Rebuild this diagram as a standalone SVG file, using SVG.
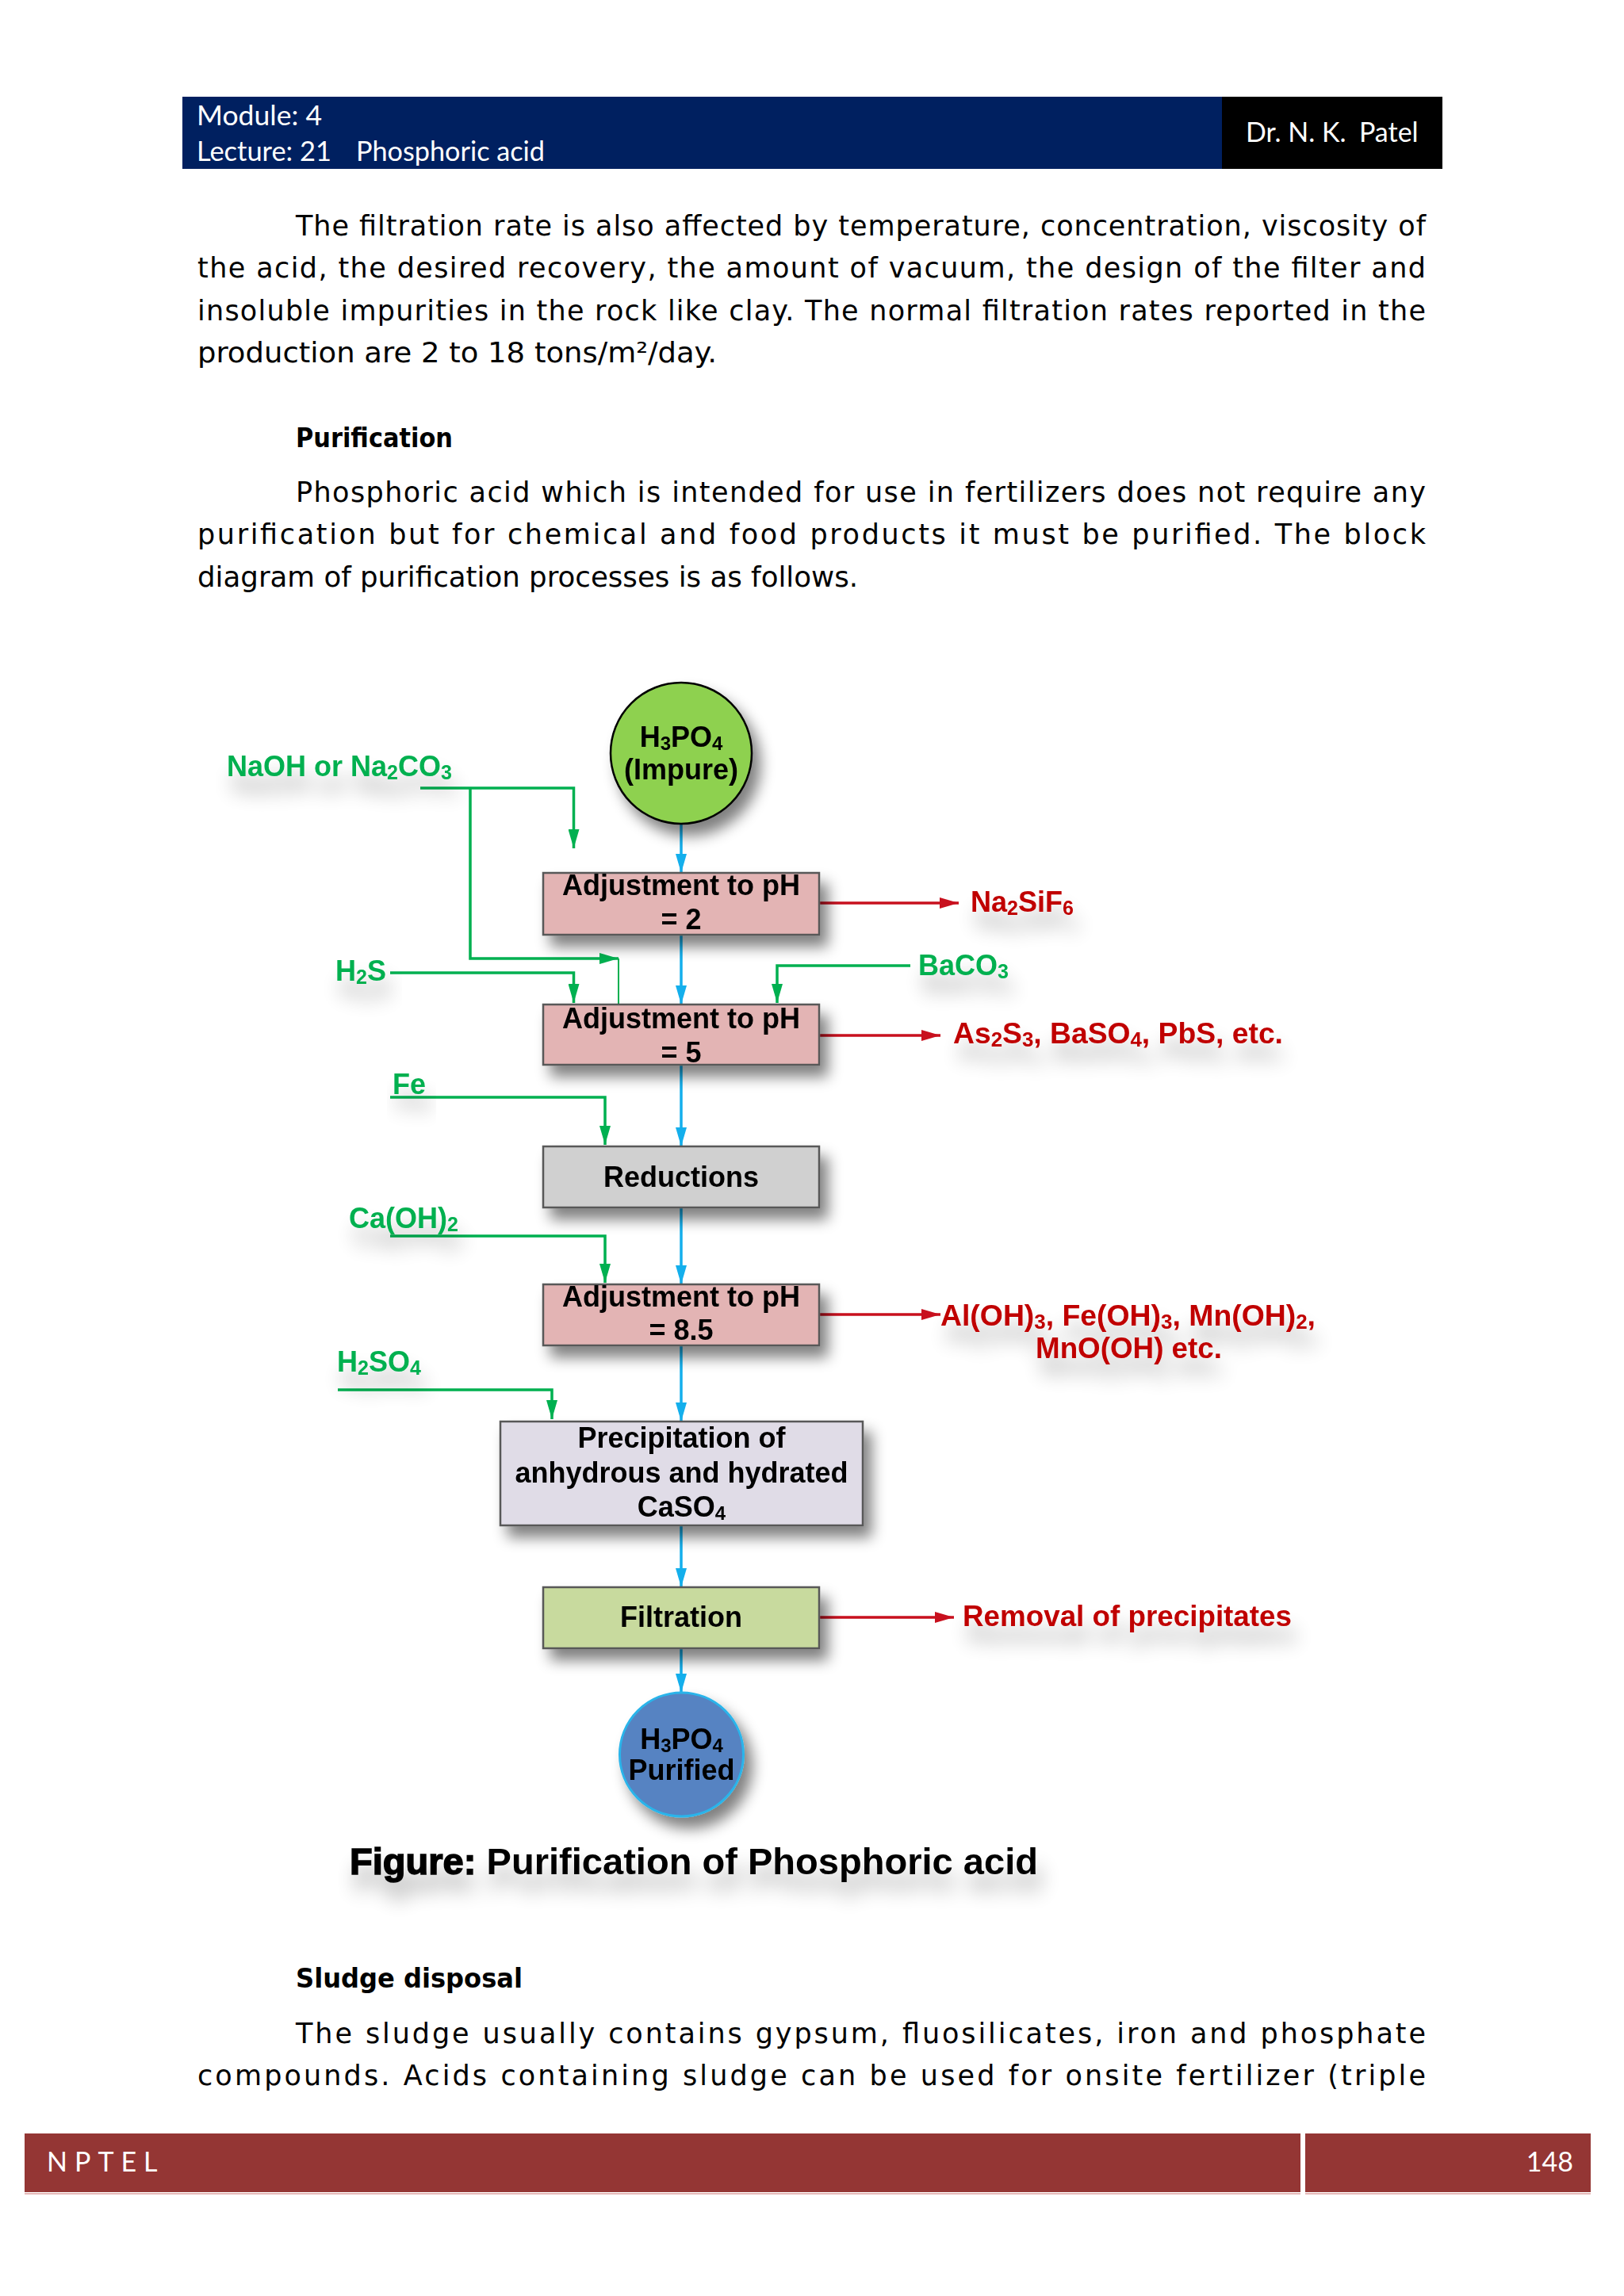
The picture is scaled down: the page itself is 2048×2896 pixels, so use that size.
<svg xmlns="http://www.w3.org/2000/svg" width="2048" height="2896" viewBox="0 0 2048 2896">
<defs>
<style>
.hdr{font-family:Lato,"Liberation Sans",sans-serif;font-size:34px;fill:#ffffff}
.body{font-family:"DejaVu Sans","Liberation Sans",sans-serif;font-size:35px;fill:#000000}
.head{font-family:"DejaVu Sans","Liberation Sans",sans-serif;font-size:34px;font-weight:bold;fill:#000000}
.fig{font-family:"Liberation Sans",Arial,sans-serif;font-size:36px;font-weight:bold}
.blk{fill:#000000}
.grn{fill:#00B050}
.red{fill:#C00000}
.box{stroke:#595959;stroke-width:2.5}
.cg{fill:none;stroke:#00B050;stroke-width:3.5}
.cb{fill:none;stroke:#14AFEC;stroke-width:3.5}
.cr{fill:none;stroke:#C8101E;stroke-width:3.5}
</style>
<marker id="ag" markerUnits="userSpaceOnUse" markerWidth="24" markerHeight="14" refX="24" refY="7" orient="auto"><path d="M0,0 L24,7 L0,14 z" fill="#00B050"/></marker>
<marker id="ab" markerUnits="userSpaceOnUse" markerWidth="24" markerHeight="14" refX="24" refY="7" orient="auto"><path d="M0,0 L24,7 L0,14 z" fill="#14AFEC"/></marker>
<marker id="ar" markerUnits="userSpaceOnUse" markerWidth="24" markerHeight="14" refX="24" refY="7" orient="auto"><path d="M0,0 L24,7 L0,14 z" fill="#C8101E"/></marker>
<filter id="sh" x="-30%" y="-40%" width="170%" height="220%">
<feGaussianBlur in="SourceAlpha" stdDeviation="9"/>
<feOffset dx="10" dy="14"/>
<feComponentTransfer><feFuncA type="linear" slope="0.5"/></feComponentTransfer>
<feMerge><feMergeNode/><feMergeNode in="SourceGraphic"/></feMerge>
</filter>
<filter id="tsh" x="-30%" y="-60%" width="160%" height="300%">
<feGaussianBlur in="SourceAlpha" stdDeviation="12"/>
<feOffset dx="6" dy="22"/>
<feComponentTransfer><feFuncA type="linear" slope="0.3"/></feComponentTransfer>
<feMerge><feMergeNode/><feMergeNode in="SourceGraphic"/></feMerge>
</filter>
</defs>
<rect x="0" y="0" width="2048" height="2896" fill="#ffffff"/>

<g id="page-header">
<rect x="230" y="122" width="1311" height="91" fill="#002060"/>
<rect x="1541" y="122" width="278" height="91" fill="#000000"/>
<text class="hdr" x="248" y="158" textLength="158" lengthAdjust="spacingAndGlyphs">Module: 4</text>
<text class="hdr" x="248" y="203" textLength="170" lengthAdjust="spacingAndGlyphs">Lecture: 21</text>
<text class="hdr" x="449" y="203" textLength="238" lengthAdjust="spacingAndGlyphs">Phosphoric acid</text>
<text class="hdr" x="1571" y="179">Dr. N. K.</text>
<text class="hdr" x="1714" y="179">Patel</text>
</g>

<g id="body-text-top">
<text class="body" x="373" y="297" textLength="1425" lengthAdjust="spacing">The filtration rate is also affected by temperature, concentration, viscosity of</text>
<text class="body" x="249" y="350" textLength="1549" lengthAdjust="spacing">the acid, the desired recovery, the amount of vacuum, the design of the filter and</text>
<text class="body" x="249" y="404" textLength="1549" lengthAdjust="spacing">insoluble impurities in the rock like clay. The normal filtration rates reported in the</text>
<text class="body" x="249" y="457" textLength="655" lengthAdjust="spacingAndGlyphs">production are 2 to 18 tons/m²/day.</text>
<text class="head" x="373" y="564" textLength="198" lengthAdjust="spacingAndGlyphs">Purification</text>
<text class="body" x="373" y="633" textLength="1425" lengthAdjust="spacing">Phosphoric acid which is intended for use in fertilizers does not require any</text>
<text class="body" x="249" y="686" textLength="1549" lengthAdjust="spacing">purification but for chemical and food products it must be purified. The block</text>
<text class="body" x="249" y="740" textLength="833" lengthAdjust="spacingAndGlyphs">diagram of purification processes is as follows.</text>
</g>

<g id="connectors">
<line class="cb" x1="859" y1="1039" x2="859" y2="1101" marker-end="url(#ab)"/>
<line class="cb" x1="859" y1="1179" x2="859" y2="1267" marker-end="url(#ab)"/>
<line class="cb" x1="859" y1="1343" x2="859" y2="1446" marker-end="url(#ab)"/>
<line class="cb" x1="859" y1="1523" x2="859" y2="1620" marker-end="url(#ab)"/>
<line class="cb" x1="859" y1="1697" x2="859" y2="1793" marker-end="url(#ab)"/>
<line class="cb" x1="859" y1="1924" x2="859" y2="2002" marker-end="url(#ab)"/>
<line class="cb" x1="859" y1="2079" x2="859" y2="2135" marker-end="url(#ab)"/>
<polyline class="cg" points="530,994 723.5,994 723.5,1070" marker-end="url(#ag)"/>
<polyline class="cg" points="593,994 593,1209 780,1209" marker-end="url(#ag)"/>
<line x1="780" y1="1209" x2="780" y2="1267" stroke="#00B050" stroke-width="2"/>
<polyline class="cg" points="492,1227 723.5,1227 723.5,1265" marker-end="url(#ag)"/>
<polyline class="cg" points="1148,1218 980,1218 980,1265" marker-end="url(#ag)"/>
<polyline class="cg" points="492,1384 763,1384 763,1444" marker-end="url(#ag)"/>
<polyline class="cg" points="492,1559 763,1559 763,1618" marker-end="url(#ag)"/>
<polyline class="cg" points="426,1753 696,1753 696,1790" marker-end="url(#ag)"/>
<line class="cr" x1="1033" y1="1139" x2="1209" y2="1139" marker-end="url(#ar)"/>
<line class="cr" x1="1033" y1="1306" x2="1186" y2="1306" marker-end="url(#ar)"/>
<line class="cr" x1="1033" y1="1658" x2="1186" y2="1658" marker-end="url(#ar)"/>
<line class="cr" x1="1033" y1="2040" x2="1203" y2="2040" marker-end="url(#ar)"/>
</g>

<g id="node-h3po4-impure" filter="url(#sh)">
<circle cx="859" cy="950" r="89" fill="#8ED150" stroke="#000000" stroke-width="2.5"/>
<text class="fig blk" x="859" y="942" text-anchor="middle">H<tspan font-size="24" baseline-shift="-4">3</tspan>PO<tspan font-size="24" baseline-shift="-4">4</tspan></text>
<text class="fig blk" x="859" y="983" text-anchor="middle">(Impure)</text>
</g>

<g id="node-ph2" filter="url(#sh)">
<rect class="box" x="685" y="1101" width="348" height="78" fill="#E3B4B4"/>
<text class="fig blk" x="859" y="1129" text-anchor="middle">Adjustment to pH</text>
<text class="fig blk" x="859" y="1172" text-anchor="middle">= 2</text>
</g>

<g id="node-ph5" filter="url(#sh)">
<rect class="box" x="685" y="1267" width="348" height="76" fill="#E3B4B4"/>
<text class="fig blk" x="859" y="1297" text-anchor="middle">Adjustment to pH</text>
<text class="fig blk" x="859" y="1340" text-anchor="middle">= 5</text>
</g>

<g id="node-reductions" filter="url(#sh)">
<rect class="box" x="685" y="1446" width="348" height="77" fill="#D0D0D0"/>
<text class="fig blk" x="859" y="1497" text-anchor="middle">Reductions</text>
</g>

<g id="node-ph85" filter="url(#sh)">
<rect class="box" x="685" y="1620" width="348" height="77" fill="#E3B4B4"/>
<text class="fig blk" x="859" y="1648" text-anchor="middle">Adjustment to pH</text>
<text class="fig blk" x="859" y="1690" text-anchor="middle">= 8.5</text>
</g>

<g id="node-precipitation" filter="url(#sh)">
<rect class="box" x="631" y="1793" width="457" height="131" fill="#E0DCE7"/>
<text class="fig blk" x="859.5" y="1826" text-anchor="middle">Precipitation of</text>
<text class="fig blk" x="859.5" y="1870" text-anchor="middle">anhydrous and hydrated</text>
<text class="fig blk" x="859.5" y="1913" text-anchor="middle">CaSO<tspan font-size="24" baseline-shift="-4">4</tspan></text>
</g>

<g id="node-filtration" filter="url(#sh)">
<rect class="box" x="685" y="2002" width="348" height="77" fill="#C8DA9E"/>
<text class="fig blk" x="859" y="2052" text-anchor="middle">Filtration</text>
</g>

<g id="node-h3po4-purified" filter="url(#sh)">
<circle cx="859.5" cy="2213" r="78" fill="#5683C2" stroke="#29B4EA" stroke-width="3"/>
<text class="fig blk" x="859.5" y="2206" text-anchor="middle">H<tspan font-size="24" baseline-shift="-4">3</tspan>PO<tspan font-size="24" baseline-shift="-4">4</tspan></text>
<text class="fig blk" x="859.5" y="2245" text-anchor="middle">Purified</text>
</g>

<g id="label-naoh" filter="url(#tsh)"><text class="fig grn" x="286" y="979">NaOH or Na<tspan font-size="25" baseline-shift="-4">2</tspan>CO<tspan font-size="25" baseline-shift="-4">3</tspan></text></g>
<g id="label-h2s" filter="url(#tsh)"><text class="fig grn" x="423" y="1237">H<tspan font-size="25" baseline-shift="-4">2</tspan>S</text></g>
<g id="label-baco3" filter="url(#tsh)"><text class="fig grn" x="1158" y="1230">BaCO<tspan font-size="25" baseline-shift="-4">3</tspan></text></g>
<g id="label-fe" filter="url(#tsh)"><text class="fig grn" x="495" y="1380">Fe</text></g>
<g id="label-caoh2" filter="url(#tsh)"><text class="fig grn" x="440" y="1549">Ca(OH)<tspan font-size="25" baseline-shift="-4">2</tspan></text></g>
<g id="label-h2so4" filter="url(#tsh)"><text class="fig grn" x="425" y="1730">H<tspan font-size="25" baseline-shift="-4">2</tspan>SO<tspan font-size="25" baseline-shift="-4">4</tspan></text></g>
<g id="label-na2sif6" filter="url(#tsh)"><text class="fig red" x="1224" y="1150">Na<tspan font-size="25" baseline-shift="-4">2</tspan>SiF<tspan font-size="25" baseline-shift="-4">6</tspan></text></g>
<g id="label-as2s3" filter="url(#tsh)"><text class="fig red" x="1202" y="1316" textLength="416" lengthAdjust="spacingAndGlyphs">As<tspan font-size="25" baseline-shift="-4">2</tspan>S<tspan font-size="25" baseline-shift="-4">3</tspan>, BaSO<tspan font-size="25" baseline-shift="-4">4</tspan>, PbS, etc.</text></g>
<g id="label-hydroxides" filter="url(#tsh)">
<text class="fig red" x="1186" y="1672" textLength="473" lengthAdjust="spacingAndGlyphs">Al(OH)<tspan font-size="25" baseline-shift="-4">3</tspan>, Fe(OH)<tspan font-size="25" baseline-shift="-4">3</tspan>, Mn(OH)<tspan font-size="25" baseline-shift="-4">2</tspan>,</text>
<text class="fig red" x="1306" y="1713" textLength="235" lengthAdjust="spacingAndGlyphs">MnO(OH) etc.</text>
</g>
<g id="label-removal" filter="url(#tsh)"><text class="fig red" x="1214" y="2051" textLength="415" lengthAdjust="spacingAndGlyphs">Removal of precipitates</text></g>

<g id="caption" filter="url(#tsh)">
<text x="441" y="2364" font-family="'Liberation Sans',Arial,sans-serif" font-size="47" font-weight="bold" fill="#000000" textLength="868" lengthAdjust="spacingAndGlyphs"><tspan stroke="#000000" stroke-width="1.5">Figure:</tspan> Purification of Phosphoric acid</text>
</g>

<g id="body-text-bottom">
<text class="head" x="373" y="2507" textLength="286" lengthAdjust="spacingAndGlyphs">Sludge disposal</text>
<text class="body" x="373" y="2577" textLength="1425" lengthAdjust="spacing">The sludge usually contains gypsum, fluosilicates, iron and phosphate</text>
<text class="body" x="249" y="2630" textLength="1549" lengthAdjust="spacing">compounds. Acids containing sludge can be used for onsite fertilizer (triple</text>
</g>

<g id="page-footer">
<rect x="31" y="2691" width="1609" height="74" fill="#943634"/>
<rect x="1646" y="2691" width="360" height="74" fill="#943634"/>
<line x1="31" y1="2767" x2="1640" y2="2767" stroke="#E6B9B8" stroke-width="2"/>
<line x1="1646" y1="2767" x2="2006" y2="2767" stroke="#E6B9B8" stroke-width="2"/>
<text class="hdr" x="59" y="2739" font-size="30" letter-spacing="9">NPTEL</text>
<text class="hdr" x="1984" y="2739" font-size="32" text-anchor="end">148</text>
</g>
</svg>
